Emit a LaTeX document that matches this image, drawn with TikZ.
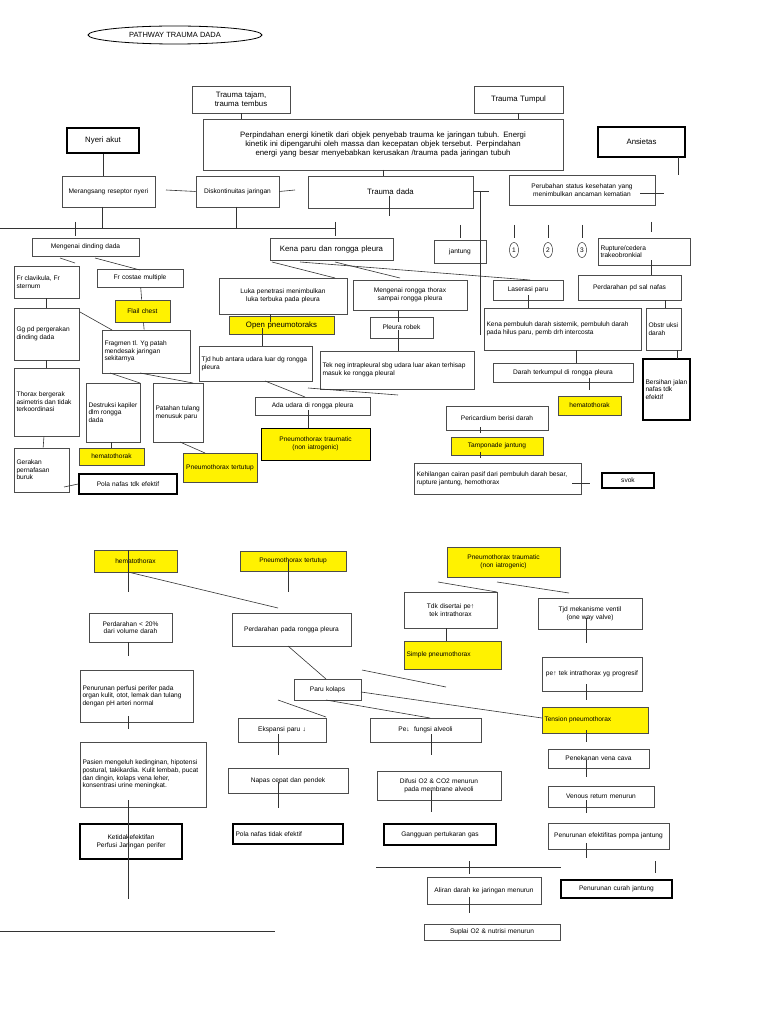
\documentclass[tikz,border=0pt]{standalone}
\usepackage{fontspec}
\setmainfont{Liberation Sans}
\usetikzlibrary{shapes.geometric}
\hyphenpenalty=10000 \exhyphenpenalty=10000
\newcommand\bx[7][]{%
 \pgfmathsetmacro\bw{#5-#3}\pgfmathsetmacro\bh{#6-#4}\pgfmathsetmacro\tw{#5-#3-5}%
 \node[bxs,#1,minimum width=\bw pt,minimum height=\bh pt,text width=\tw pt] (#2) at ({(#3+#5)/2},{(#4+#6)/2}) {#7};}
\begin{document}
\begin{tikzpicture}[x=1pt,y=-1pt,
 bxs/.style={draw=black!70,line width=0.6pt,rectangle,inner sep=2pt,align=center,font=\fontsize{6.6}{7.6}\selectfont},
 yel/.style={fill=yellow},
 thk/.style={draw=black,line width=1.6pt},
 lft/.style={align=flush left},
 big/.style={font=\fontsize{7.8}{8.8}\selectfont},
 ln/.style={draw=black!80,line width=0.6pt}]
\useasboundingbox[fill=white] (0,0) rectangle (768,1024);
% top
\node[draw,ellipse,line width=0.8pt,minimum width=174pt,minimum height=18pt,inner sep=0pt,font=\fontsize{7.5}{8.5}\selectfont] (title) at (175,35) {PATHWAY TRAUMA DADA};
\bx[big]{tajam}{192}{86}{290}{113}{Trauma tajam, trauma tembus}
\bx[big]{tumpul}{474}{86}{563}{113}{Trauma Tumpul}
\bx[big]{energi}{203}{119}{563}{170}{Perpindahan energi kinetik dari objek penyebab trauma ke jaringan tubuh. Energi kinetik ini dipengaruhi oleh massa dan kecepatan objek tersebut. Perpindahan energi yang besar menyebabkan kerusakan /trauma pada jaringan tubuh}
\bx[thk,big]{nyeri}{67}{128}{139}{153}{Nyeri akut}
\bx[thk,big]{ansietas}{598}{127}{685}{157}{Ansietas}
\bx{meransang}{62}{176}{155}{207}{Merangsang reseptor nyeri}
\bx{diskon}{196}{176}{279}{207}{Diskontinuitas jaringan}
\bx[big]{tdada}{308}{176}{473}{208}{Trauma dada\\[12pt]}
\bx{perubahan}{509}{175}{655}{205}{Perubahan status kesehatan yang menimbulkan ancaman kematian}
\bx{dinding}{32}{238}{139}{256}{Mengenai dinding dada}
\bx[big]{kenaparu}{270}{238}{393}{260}{Kena paru dan rongga pleura}
\bx{jantung}{434}{240}{486}{263}{jantung}
\foreach \i/\xx in {1/514,2/548,3/582}{\node[draw,ellipse,minimum width=9pt,minimum height=15pt,inner sep=0pt,font=\fontsize{6.6}{7.6}\selectfont] (c\i) at (\xx,250) {\i};}
\bx[lft]{rupture}{598}{238}{690}{265}{Rupture/cedera trakeobronkial}
\bx[lft]{frclav}{14}{266}{79}{298}{Fr clavikula, Fr sternum}
\bx{frcost}{97}{269}{183}{287}{Fr costae multiple}
\bx[yel]{flail}{115}{300}{170}{322}{Flail chest}
\bx{luka}{219}{278}{347}{314}{Luka penetrasi menimbulkan luka terbuka pada pleura}
\bx{mrongga}{353}{280}{467}{310}{Mengenai rongga thorax sampai rongga pleura}
\bx{laserasi}{493}{280}{563}{300}{Laserasi paru}
\bx{pdsal}{578}{275}{681}{300}{Perdarahan pd sal nafas}
\bx[yel,big]{openp}{229}{316}{334}{334}{Open pneumotoraks}
\bx{probek}{370}{317}{433}{338}{Pleura robek}
\bx[lft]{gg}{14}{308}{79}{360}{Gg pd pergerakan dinding dada}
\bx[lft]{fragmen}{102}{330}{190}{373}{Fragmen tl. Yg patah mendesak jaringan sekitarnya}
\bx[lft]{kenapemb}{484}{308}{641}{350}{Kena pembuluh darah sistemik, pembuluh darah pada hilus paru, pemb drh intercosta}
\bx[lft]{obstr}{646}{308}{681}{350}{Obstr uksi darah}
\bx[lft]{tjdhub}{199}{346}{312}{381}{Tjd hub antara udara luar dg rongga pleura}
\bx[lft]{tekneg}{320}{351}{474}{389}{Tek neg intrapleural sbg udara luar akan terhisap masuk ke rongga pleural}
\bx{darahter}{493}{363}{633}{382}{Darah terkumpul di rongga pleura}
\bx[thk,lft]{bersihan}{643}{359}{690}{420}{Bersihan jalan nafas tdk efektif}
\bx[lft]{thorax}{14}{368}{79}{436}{Thorax bergerak asimetris dan tidak terkoordinasi}
\bx[lft]{destruksi}{86}{383}{140}{442}{Destruksi kapiler dlm rongga dada}
\bx[lft]{patahan}{153}{383}{203}{442}{Patahan tulang menusuk paru}
\bx{adaudara}{255}{397}{370}{415}{Ada udara di rongga pleura}
\bx[yel]{hemR}{558}{396}{621}{415}{hematothorak}
\bx{pericard}{446}{406}{548}{430}{Pericardium berisi darah}
\bx[yel,draw=black]{pntrau}{261}{428}{370}{460}{Pneumothorax traumatic (non iatrogenic)}
\bx[yel]{tampon}{451}{437}{543}{455}{Tamponade jantung}
\bx[yel]{hemL}{79}{448}{144}{465}{hematothorak}
\bx[yel]{pntert}{183}{453}{257}{482}{Pneumothorax tertutup}
\bx[lft]{gerakan}{14}{448}{69}{492}{Gerakan pernafasan buruk}
\bx[thk]{polaA}{79}{474}{177}{494}{Pola nafas tdk efektif}
\bx[lft]{kehil}{414}{463}{581}{494}{Kehilangan cairan pasif dari pembuluh darah besar, rupture jantung, hemothorax}
\bx[thk]{svok}{602}{473}{654}{488}{svok}
% top connectors
\draw[ln] (tajam) -- (tajam|-energi.north);
\draw[ln] (tumpul) -- (tumpul|-energi.north);
\draw[ln] (383,170) -- (383,176);
\draw[ln] (389,196) -- (389,216);
\draw[ln] (nyeri.south) -- (nyeri.south|-meransang.north);
\draw[ln] (102,207) -- (102,228); \draw[ln] (236,207) -- (236,228);
\draw[ln] (166,190) -- (diskon.west); \draw[ln] (diskon.east) -- (295,190);
\draw[ln] (0,228) -- (335,228);
\draw[ln] (75,222) -- (75,236); \draw[ln] (335,222) -- (335,236);
\draw[ln] (473,191) -- (489,191); \draw[ln] (480,191) -- (480,335);
\draw[ln] (640,193) -- (664,193);
\draw[ln] (678,157) -- (678,175);
\foreach \xx in {460,514,548,582}{\draw[ln] (\xx,225) -- (\xx,238);}
\draw[ln] (651,222) -- (651,232);
\draw[ln] (60,258) -- (75,263); \draw[ln] (95,258) -- (140,270);
\draw[ln] (frclav) -- (gg); \draw[ln] (frcost) -- (flail); \draw[ln] (flail) -- (fragmen);
\draw[ln] (80,312) -- (112,330);
\draw[ln] (gg) -- (thorax); \draw[ln] (thorax) -- (gerakan);
\draw[ln] (64,487) -- (polaA.west);
\draw[ln] (110,373) -- (140,383); \draw[ln] (140,373) -- (193,383);
\draw[ln] (destruksi.south-|hemL) -- (hemL.north);
\draw[ln] (180,442) -- (205,453);
\draw[ln] (272,262) -- (335,278); \draw[ln] (335,262) -- (400,278); \draw[ln] (300,262) -- (530,280);
\draw[ln] (270,314) -- (270,322); \draw[ln] (262,328) -- (262,346);
\draw[ln] (398,310) -- (398,322); \draw[ln] (398,330) -- (398,351);
\draw[ln] (265,381) -- (305,397); \draw[ln] (308,388) -- (398,395);
\draw[ln] (308,410) -- (308,428);
\draw[ln] (528,295) -- (528,308); \draw[ln] (576,350) -- (576,363); \draw[ln] (589,378) -- (589,390);
\draw[ln] (651,260) -- (651,275); \draw[ln] (665,300) -- (665,308); \draw[ln] (677,350) -- (677,359);
\draw[ln] (480,427) -- (480,433); \draw[ln] (480,452) -- (480,458);
\draw[ln] (572,483) -- (590,483);
% bottom
\bx[yel]{hemB}{94}{550}{177}{572}{hematothorax}
\bx[yel]{pntertB}{240}{551}{346}{571}{Pneumothorax tertutup}
\bx[yel]{pntrauB}{447}{547}{560}{577}{Pneumothorax traumatic (non iatrogenic)}
\bx{tdk}{404}{592}{497}{628}{Tdk disertai pe↑ tek intrathorax}
\bx{ventil}{538}{598}{642}{629}{Tjd mekanisme ventil (one way valve)}
\bx{p20}{89}{613}{172}{642}{Perdarahan < 20\% dari volume darah}
\bx{prongga}{232}{613}{351}{646}{Perdarahan pada rongga pleura}
\bx[yel,lft]{simple}{404}{641}{501}{669}{Simple pneumothorax\\[6pt]}
\bx{progres}{542}{657}{642}{691}{pe↑ tek intrathorax yg progresif}
\bx[lft]{penperf}{80}{670}{193}{722}{Penurunan perfusi perifer pada organ kulit, otot, lemak dan tulang dengan pH arteri normal}
\bx{kolaps}{294}{679}{361}{700}{Paru kolaps}
\bx{ekspansi}{238}{718}{326}{742}{Ekspansi paru ↓}
\bx{fungsi}{370}{718}{481}{742}{Pe↓ \ fungsi alveoli}
\bx[yel,lft]{tension}{542}{707}{648}{733}{Tension pneumothorax}
\bx[lft]{pasien}{80}{742}{206}{807}{Pasien mengeluh kedinginan, hipotensi postural, takikardia. Kulit lembab, pucat dan dingin, kolaps vena leher, konsentrasi urine meningkat.}
\bx{napas}{228}{768}{348}{793}{Napas cepat dan pendek}
\bx{difusi}{377}{771}{501}{800}{Difusi O2 \& CO2 menurun pada membrane alveoli}
\bx{penekanan}{548}{749}{649}{768}{Penekanan vena cava}
\bx{venous}{548}{786}{654}{807}{Venous return menurun}
\bx{pompa}{548}{823}{669}{849}{Penurunan efektifitas pompa jantung}
\bx[thk]{perfusi}{80}{824}{182}{859}{Ketidakefektifan Perfusi Jaringan perifer}
\bx[thk,lft]{polaB}{233}{824}{343}{844}{Pola nafas tidak efektif}
\bx[thk]{gas}{384}{824}{496}{845}{Gangguan pertukaran gas}
\bx{aliran}{427}{877}{541}{904}{Aliran darah ke jaringan menurun}
\bx[thk]{curah}{561}{880}{672}{898}{Penurunan curah jantung}
\bx{suplai}{424}{924}{560}{940}{Suplai O2 \& nutrisi menurun}
% bottom connectors
\draw[ln] (128,550) -- (128,592); \draw[ln] (128,572) -- (278,608);
\draw[ln] (288,560) -- (288,592);
\draw[ln] (438,582) -- (497,592); \draw[ln] (497,582) -- (569,593);
\draw[ln] (446,628) -- (446,641);
\draw[ln] (586,618) -- (586,643); \draw[ln] (586,684) -- (586,700); \draw[ln] (586,730) -- (586,742);
\draw[ln] (586,760) -- (586,777); \draw[ln] (586,800) -- (586,813); \draw[ln] (586,843) -- (586,858);
\draw[ln] (128,642) -- (128,656); \draw[ln] (128,716) -- (128,729); \draw[ln] (128,800) -- (128,899);
\draw[ln] (288,646) -- (326,679);
\draw[ln] (362,670) -- (446,687); \draw[ln] (361,692) -- (542,718); \draw[ln] (326,700) -- (430,718);
\draw[ln] (278,700) -- (326,717);
\draw[ln] (278,734) -- (278,755); \draw[ln] (278,782) -- (278,808);
\draw[ln] (431,734) -- (431,755); \draw[ln] (431,790) -- (431,812);
\draw[ln] (376,867) -- (561,867); \draw[ln] (469,861) -- (469,874); \draw[ln] (655,861) -- (655,873);
\draw[ln] (469,897) -- (469,913);
\draw[ln] (0,931) -- (275,931);
\end{tikzpicture}
\end{document}
